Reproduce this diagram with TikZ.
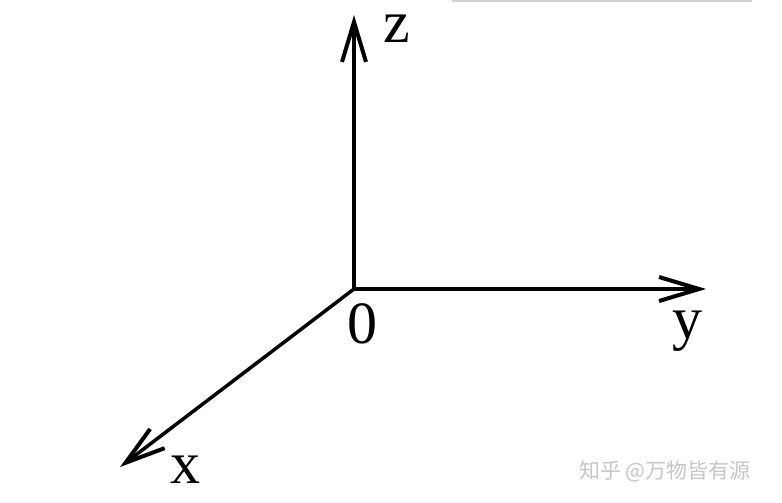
\documentclass[tikz,border=0pt]{standalone}
\usepackage{fontspec}
\setmainfont{Liberation Serif}
\newfontfamily\cjk{Noto Sans CJK SC}
\usetikzlibrary{arrows.meta}
\tikzset{
  axis/.style={line width=3.5pt,-{Straight Barb[length=40pt,width=24pt,line width=4pt]}},
  lbl/.style={anchor=base,inner sep=0pt,font=\fontsize{60}{60}\selectfont},
}
\begin{document}
\begin{tikzpicture}[x=1pt,y=-1pt]
\useasboundingbox[fill=white] (0,0) rectangle (782,503);
\draw[gray!35,line width=1.5pt] (452,1) -- (752,1);
\coordinate (O) at (354,289);
\coordinate (Z) at (354,15);
\coordinate (Y) at (706,289);
\coordinate (X) at (120,467);
\draw[axis] (O) -- (Z);
\draw[axis] (O) -- (Y);
\draw[axis] (O) -- (X);
\node[lbl] (lz) at (397,43) {z};
\node[lbl] (l0) at (362,343) {0};
\node[lbl] (ly) at (687,338) {y};
\node[lbl] (lx) at (185,483) {x};
\node[anchor=base,inner sep=0pt,text=gray!45,font=\cjk\fontsize{21}{21}\selectfont] (wm) at (665,478) {知乎 @万物皆有源};
\end{tikzpicture}
\end{document}
